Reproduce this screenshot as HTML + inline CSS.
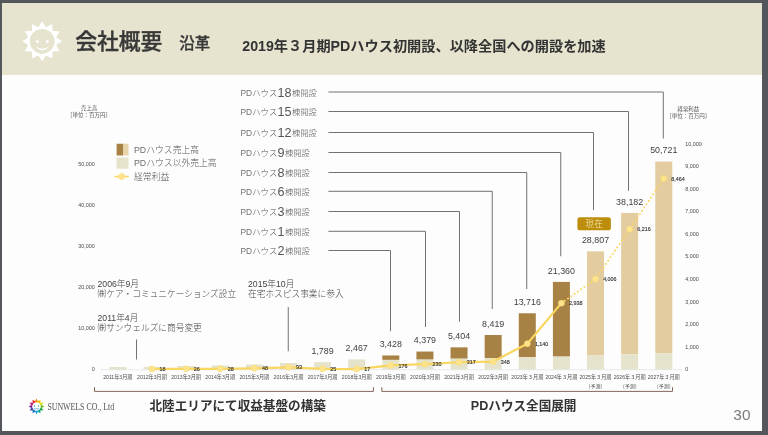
<!DOCTYPE html>
<html lang="ja"><head><meta charset="utf-8"><title>会社概要 沿革</title>
<style>
html,body{margin:0;padding:0}
body{width:768px;height:435px;background:#53575b;overflow:hidden;position:relative;font-family:"Liberation Sans","Noto Sans CJK JP",sans-serif}
#slide{position:absolute;left:2px;top:3px;width:760px;height:428px;background:#fdfdfd}
#band{position:absolute;left:0;top:0;width:760px;height:72px;background:#e6e3cf}
svg{position:absolute;left:0;top:0}
svg text{font-family:"Liberation Sans","Noto Sans CJK JP",sans-serif}
</style></head><body>
<div id="slide"><div id="band"></div></div>
<svg width="768" height="435" viewBox="0 0 768 435">
<rect x="109.35" y="367.00" width="17.0" height="2.50" fill="#e6e3cc"/>
<rect x="143.47" y="366.83" width="17.0" height="2.66" fill="#e6e3cc"/>
<rect x="177.59" y="366.01" width="17.0" height="3.48" fill="#e6e3cc"/>
<rect x="211.71" y="365.50" width="17.0" height="4.00" fill="#e6e3cc"/>
<rect x="245.83" y="364.50" width="17.0" height="5.00" fill="#e6e3cc"/>
<rect x="279.95" y="363.00" width="17.0" height="6.50" fill="#e6e3cc"/>
<rect x="314.07" y="362.17" width="17.0" height="7.33" fill="#e6e3cc"/>
<rect x="348.19" y="359.39" width="17.0" height="10.11" fill="#e6e3cc"/>
<rect x="382.31" y="355.45" width="17.0" height="4.45" fill="#a88245"/>
<rect x="382.31" y="359.90" width="17.0" height="9.60" fill="#e6e3cc"/>
<rect x="416.43" y="351.55" width="17.0" height="8.05" fill="#a88245"/>
<rect x="416.43" y="359.60" width="17.0" height="9.90" fill="#e6e3cc"/>
<rect x="450.55" y="347.34" width="17.0" height="11.36" fill="#a88245"/>
<rect x="450.55" y="358.70" width="17.0" height="10.80" fill="#e6e3cc"/>
<rect x="484.67" y="334.98" width="17.0" height="23.12" fill="#a88245"/>
<rect x="484.67" y="358.10" width="17.0" height="11.40" fill="#e6e3cc"/>
<rect x="518.79" y="313.26" width="17.0" height="43.94" fill="#a88245"/>
<rect x="518.79" y="357.20" width="17.0" height="12.30" fill="#e6e3cc"/>
<rect x="552.91" y="281.92" width="17.0" height="74.68" fill="#a88245"/>
<rect x="552.91" y="356.60" width="17.0" height="12.90" fill="#e6e3cc"/>
<rect x="587.03" y="251.39" width="17.0" height="104.11" fill="#e3cc9f"/>
<rect x="587.03" y="355.50" width="17.0" height="14.00" fill="#e6e3cc"/>
<rect x="621.15" y="212.95" width="17.0" height="141.45" fill="#e3cc9f"/>
<rect x="621.15" y="354.40" width="17.0" height="15.10" fill="#e6e3cc"/>
<rect x="655.27" y="161.54" width="17.0" height="191.66" fill="#e3cc9f"/>
<rect x="655.27" y="353.20" width="17.0" height="16.30" fill="#e6e3cc"/>
<line x1="100" y1="369.75" x2="682" y2="369.75" stroke="#dcdcdc" stroke-width="0.6"/>
<polyline points="328.4,92.0 663.30,92.0 663.30,138.50" fill="none" stroke="#6a6a6a" stroke-width="0.95"/>
<polyline points="328.4,111.5 628.50,111.5 628.50,190.75" fill="none" stroke="#6a6a6a" stroke-width="0.95"/>
<polyline points="328.4,132.5 593.50,132.5 593.50,210.00" fill="none" stroke="#6a6a6a" stroke-width="0.95"/>
<polyline points="328.4,152.5 560.75,152.5 560.75,256.25" fill="none" stroke="#6a6a6a" stroke-width="0.95"/>
<polyline points="328.4,172.5 526.75,172.5 526.75,289.00" fill="none" stroke="#6a6a6a" stroke-width="0.95"/>
<polyline points="328.4,191.3 492.25,191.3 492.25,309.00" fill="none" stroke="#6a6a6a" stroke-width="0.95"/>
<polyline points="328.4,211.5 459.50,211.5 459.50,321.75" fill="none" stroke="#6a6a6a" stroke-width="0.95"/>
<polyline points="328.4,231.3 425.50,231.3 425.50,327.00" fill="none" stroke="#6a6a6a" stroke-width="0.95"/>
<polyline points="328.4,250.5 390.50,250.5 390.50,331.25" fill="none" stroke="#6a6a6a" stroke-width="0.95"/>
<line x1="136.5" y1="339.5" x2="136.5" y2="359.5" stroke="#6a6a6a" stroke-width="0.95"/>
<line x1="288.25" y1="307" x2="288.25" y2="351.25" stroke="#6a6a6a" stroke-width="0.95"/>
<polyline points="151.97,368.99 186.09,368.81 220.21,368.77 254.33,368.32 288.45,367.30 322.57,368.84 356.69,369.02 390.81,365.43 424.93,364.21 459.05,362.25 493.17,361.55 527.29,343.69 561.41,303.15" fill="none" stroke="#f9d65f" stroke-width="2.25" stroke-linejoin="round" stroke-linecap="round"/>
<polyline points="561.41,303.15 595.53,279.06 629.65,229.23 663.77,178.54" fill="none" stroke="#f9d65f" stroke-width="1.95" stroke-dasharray="0.01 4.0" stroke-linecap="round"/>
<circle cx="151.97" cy="368.99" r="3.0" fill="#fde48c" stroke="#fbdb70" stroke-width="0.6"/>
<circle cx="186.09" cy="368.81" r="3.0" fill="#fde48c" stroke="#fbdb70" stroke-width="0.6"/>
<circle cx="220.21" cy="368.77" r="3.0" fill="#fde48c" stroke="#fbdb70" stroke-width="0.6"/>
<circle cx="254.33" cy="368.32" r="3.0" fill="#fde48c" stroke="#fbdb70" stroke-width="0.6"/>
<circle cx="288.45" cy="367.30" r="3.0" fill="#fde48c" stroke="#fbdb70" stroke-width="0.6"/>
<circle cx="322.57" cy="368.84" r="3.0" fill="#fde48c" stroke="#fbdb70" stroke-width="0.6"/>
<circle cx="356.69" cy="369.02" r="3.0" fill="#fde48c" stroke="#fbdb70" stroke-width="0.6"/>
<circle cx="390.81" cy="365.43" r="3.0" fill="#fde48c" stroke="#fbdb70" stroke-width="0.6"/>
<circle cx="424.93" cy="364.21" r="3.0" fill="#fde48c" stroke="#fbdb70" stroke-width="0.6"/>
<circle cx="459.05" cy="362.25" r="3.0" fill="#fde48c" stroke="#fbdb70" stroke-width="0.6"/>
<circle cx="493.17" cy="361.55" r="3.0" fill="#fde48c" stroke="#fbdb70" stroke-width="0.6"/>
<circle cx="527.29" cy="343.69" r="3.0" fill="#fde48c" stroke="#fbdb70" stroke-width="0.6"/>
<circle cx="561.41" cy="303.15" r="3.0" fill="#fde48c" stroke="#fbdb70" stroke-width="0.6"/>
<circle cx="595.53" cy="279.06" r="3.0" fill="#fde48c" stroke="#fbdb70" stroke-width="0.6"/>
<circle cx="629.65" cy="229.23" r="3.0" fill="#fde48c" stroke="#fbdb70" stroke-width="0.6"/>
<circle cx="663.77" cy="178.54" r="3.0" fill="#fde48c" stroke="#fbdb70" stroke-width="0.6"/>
<rect x="116.6" y="143.75" width="6.4" height="11.75" fill="#a88245"/>
<rect x="123" y="143.75" width="5.5" height="11.75" fill="#e8d4ab"/>
<rect x="116.5" y="157.5" width="12" height="11.25" fill="#e6e3cc"/>
<line x1="114.5" y1="176.5" x2="128.75" y2="176.5" stroke="#f9d65f" stroke-width="1.5"/>
<circle cx="121.7" cy="176.5" r="3.1" fill="#fde48c" stroke="#fbdb70" stroke-width="0.5"/>
<rect x="577.4" y="217.2" width="33.5" height="13.1" rx="2.6" fill="#bd8e0b"/>
<polyline points="94.5,387.2 94.5,391.4 373.4,391.4 373.4,387.2" fill="none" stroke="#82675c" stroke-width="1"/>
<polyline points="381.8,387.2 381.8,391.4 672.5,391.4 672.5,387.2" fill="none" stroke="#82675c" stroke-width="1"/>
<polygon points="42.20,21.30 45.98,27.20 52.20,23.98 52.52,30.98 59.52,31.30 56.30,37.52 62.20,41.30 56.30,45.08 59.52,51.30 52.52,51.62 52.20,58.62 45.98,55.40 42.20,61.30 38.42,55.40 32.20,58.62 31.88,51.62 24.88,51.30 28.10,45.08 22.20,41.30 28.10,37.52 24.88,31.30 31.88,30.98 32.20,23.98 38.42,27.20" fill="#ffffff"/>
<circle cx="42.2" cy="41.3" r="12.4" fill="#e6e3cf"/>
<circle cx="37.3" cy="41.5" r="1.5" fill="#fff"/><circle cx="47.3" cy="41.5" r="1.5" fill="#fff"/>
<path d="M35.7 45.9 Q42.3 51.8 49.1 45.9 Q42.3 54.6 35.7 45.9 Z" fill="#fff"/>
<polygon points="36.50,406.50 35.10,401.28 36.50,398.60 37.90,401.28" fill="#f08300"/>
<polygon points="36.50,406.50 37.90,401.28 40.45,399.66 40.32,402.68" fill="#f8c300"/>
<polygon points="36.50,406.50 40.32,402.68 43.34,402.55 41.72,405.10" fill="#d8dc00"/>
<polygon points="36.50,406.50 41.72,405.10 44.40,406.50 41.72,407.90" fill="#6fba2c"/>
<polygon points="36.50,406.50 41.72,407.90 43.34,410.45 40.32,410.32" fill="#14a83b"/>
<polygon points="36.50,406.50 40.32,410.32 40.45,413.34 37.90,411.72" fill="#009e96"/>
<polygon points="36.50,406.50 37.90,411.72 36.50,414.40 35.10,411.72" fill="#1aa3dc"/>
<polygon points="36.50,406.50 35.10,411.72 32.55,413.34 32.68,410.32" fill="#1470c2"/>
<polygon points="36.50,406.50 32.68,410.32 29.66,410.45 31.28,407.90" fill="#3a3f9f"/>
<polygon points="36.50,406.50 31.28,407.90 28.60,406.50 31.28,405.10" fill="#7d2e8f"/>
<polygon points="36.50,406.50 31.28,405.10 29.66,402.55 32.68,402.68" fill="#c4127c"/>
<polygon points="36.50,406.50 32.68,402.68 32.55,399.66 35.10,401.28" fill="#e5232f"/>
<circle cx="36.5" cy="406.5" r="4.25" fill="#fff"/>
<rect x="34.3" y="405.2" width="0.8" height="1.7" fill="#4a6fc4"/><rect x="37.9" y="405.2" width="0.8" height="1.7" fill="#3bb27a"/>
<path d="M34.2 408.1 L34.2 408.9 L38.8 408.9 L38.8 408.1" fill="none" stroke="#2a8fcf" stroke-width="0.6"/>
<text x="240.5" y="95.90" fill="#555" font-weight="300"><tspan font-size="8.4"><tspan fill="#707070">PD</tspan>ハウス</tspan><tspan font-size="12.6" dy="0.6" dx="0.2">18</tspan><tspan font-size="8.3" dy="-0.6" dx="0.5">棟開設</tspan></text>
<text x="240.5" y="115.40" fill="#555" font-weight="300"><tspan font-size="8.4"><tspan fill="#707070">PD</tspan>ハウス</tspan><tspan font-size="12.6" dy="0.6" dx="0.2">15</tspan><tspan font-size="8.3" dy="-0.6" dx="0.5">棟開設</tspan></text>
<text x="240.5" y="136.40" fill="#555" font-weight="300"><tspan font-size="8.4"><tspan fill="#707070">PD</tspan>ハウス</tspan><tspan font-size="12.6" dy="0.6" dx="0.2">12</tspan><tspan font-size="8.3" dy="-0.6" dx="0.5">棟開設</tspan></text>
<text x="240.5" y="156.40" fill="#555" font-weight="300"><tspan font-size="8.4"><tspan fill="#707070">PD</tspan>ハウス</tspan><tspan font-size="12.6" dy="0.6" dx="0.2">9</tspan><tspan font-size="8.3" dy="-0.6" dx="0.5">棟開設</tspan></text>
<text x="240.5" y="176.40" fill="#555" font-weight="300"><tspan font-size="8.4"><tspan fill="#707070">PD</tspan>ハウス</tspan><tspan font-size="12.6" dy="0.6" dx="0.2">8</tspan><tspan font-size="8.3" dy="-0.6" dx="0.5">棟開設</tspan></text>
<text x="240.5" y="195.20" fill="#555" font-weight="300"><tspan font-size="8.4"><tspan fill="#707070">PD</tspan>ハウス</tspan><tspan font-size="12.6" dy="0.6" dx="0.2">6</tspan><tspan font-size="8.3" dy="-0.6" dx="0.5">棟開設</tspan></text>
<text x="240.5" y="215.40" fill="#555" font-weight="300"><tspan font-size="8.4"><tspan fill="#707070">PD</tspan>ハウス</tspan><tspan font-size="12.6" dy="0.6" dx="0.2">3</tspan><tspan font-size="8.3" dy="-0.6" dx="0.5">棟開設</tspan></text>
<text x="240.5" y="235.20" fill="#555" font-weight="300"><tspan font-size="8.4"><tspan fill="#707070">PD</tspan>ハウス</tspan><tspan font-size="12.6" dy="0.6" dx="0.2">1</tspan><tspan font-size="8.3" dy="-0.6" dx="0.5">棟開設</tspan></text>
<text x="240.5" y="254.40" fill="#555" font-weight="300"><tspan font-size="8.4"><tspan fill="#707070">PD</tspan>ハウス</tspan><tspan font-size="12.6" dy="0.6" dx="0.2">2</tspan><tspan font-size="8.3" dy="-0.6" dx="0.5">棟開設</tspan></text>
<text x="159.57" y="371.09" font-size="5.4" text-anchor="start" font-weight="400" fill="#2e2e2e" stroke="#2e2e2e" stroke-width="0.12">18</text>
<text x="193.69" y="370.91" font-size="5.4" text-anchor="start" font-weight="400" fill="#2e2e2e" stroke="#2e2e2e" stroke-width="0.12">26</text>
<text x="227.81" y="370.87" font-size="5.4" text-anchor="start" font-weight="400" fill="#2e2e2e" stroke="#2e2e2e" stroke-width="0.12">28</text>
<text x="261.93" y="370.42" font-size="5.4" text-anchor="start" font-weight="400" fill="#2e2e2e" stroke="#2e2e2e" stroke-width="0.12">48</text>
<text x="296.05" y="369.40" font-size="5.4" text-anchor="start" font-weight="400" fill="#2e2e2e" stroke="#2e2e2e" stroke-width="0.12">93</text>
<text x="330.17" y="370.94" font-size="5.4" text-anchor="start" font-weight="400" fill="#2e2e2e" stroke="#2e2e2e" stroke-width="0.12">25</text>
<text x="364.29" y="371.12" font-size="5.4" text-anchor="start" font-weight="400" fill="#2e2e2e" stroke="#2e2e2e" stroke-width="0.12">17</text>
<text x="398.41" y="367.53" font-size="5.4" text-anchor="start" font-weight="400" fill="#2e2e2e" stroke="#2e2e2e" stroke-width="0.12">176</text>
<text x="432.53" y="366.31" font-size="5.4" text-anchor="start" font-weight="400" fill="#2e2e2e" stroke="#2e2e2e" stroke-width="0.12">230</text>
<text x="466.65" y="364.35" font-size="5.4" text-anchor="start" font-weight="400" fill="#2e2e2e" stroke="#2e2e2e" stroke-width="0.12">317</text>
<text x="500.77" y="363.65" font-size="5.4" text-anchor="start" font-weight="400" fill="#2e2e2e" stroke="#2e2e2e" stroke-width="0.12">348</text>
<text x="534.89" y="345.79" font-size="5.4" text-anchor="start" font-weight="400" fill="#2e2e2e" stroke="#2e2e2e" stroke-width="0.12">1,140</text>
<text x="569.01" y="305.25" font-size="5.4" text-anchor="start" font-weight="400" fill="#2e2e2e" stroke="#2e2e2e" stroke-width="0.12">2,938</text>
<text x="603.13" y="281.16" font-size="5.4" text-anchor="start" font-weight="400" fill="#2e2e2e" stroke="#2e2e2e" stroke-width="0.12">4,006</text>
<text x="637.25" y="231.33" font-size="5.4" text-anchor="start" font-weight="400" fill="#2e2e2e" stroke="#2e2e2e" stroke-width="0.12">6,216</text>
<text x="671.37" y="180.64" font-size="5.4" text-anchor="start" font-weight="400" fill="#2e2e2e" stroke="#2e2e2e" stroke-width="0.12">8,464</text>
<text x="322.57" y="353.87" font-size="8.9" text-anchor="middle" font-weight="400" fill="#3e3e3e" >1,789</text>
<text x="356.69" y="351.09" font-size="8.9" text-anchor="middle" font-weight="400" fill="#3e3e3e" >2,467</text>
<text x="390.81" y="347.15" font-size="8.9" text-anchor="middle" font-weight="400" fill="#3e3e3e" >3,428</text>
<text x="424.93" y="343.25" font-size="8.9" text-anchor="middle" font-weight="400" fill="#3e3e3e" >4,379</text>
<text x="459.05" y="339.04" font-size="8.9" text-anchor="middle" font-weight="400" fill="#3e3e3e" >5,404</text>
<text x="493.17" y="326.68" font-size="8.9" text-anchor="middle" font-weight="400" fill="#3e3e3e" >8,419</text>
<text x="527.29" y="304.96" font-size="8.9" text-anchor="middle" font-weight="400" fill="#3e3e3e" >13,716</text>
<text x="561.41" y="273.62" font-size="8.9" text-anchor="middle" font-weight="400" fill="#3e3e3e" >21,360</text>
<text x="595.53" y="243.09" font-size="8.9" text-anchor="middle" font-weight="400" fill="#3e3e3e" >28,807</text>
<text x="629.65" y="204.65" font-size="8.9" text-anchor="middle" font-weight="400" fill="#3e3e3e" >38,182</text>
<text x="663.77" y="153.24" font-size="8.9" text-anchor="middle" font-weight="400" fill="#3e3e3e" >50,721</text>
<text x="117.85" y="378.80" font-size="5.15" text-anchor="middle" font-weight="400" fill="#4c4c4c" >2011年3月期</text>
<text x="151.97" y="378.80" font-size="5.15" text-anchor="middle" font-weight="400" fill="#4c4c4c" >2012年3月期</text>
<text x="186.09" y="378.80" font-size="5.15" text-anchor="middle" font-weight="400" fill="#4c4c4c" >2013年3月期</text>
<text x="220.21" y="378.80" font-size="5.15" text-anchor="middle" font-weight="400" fill="#4c4c4c" >2014年3月期</text>
<text x="254.33" y="378.80" font-size="5.15" text-anchor="middle" font-weight="400" fill="#4c4c4c" >2015年3月期</text>
<text x="288.45" y="378.80" font-size="5.15" text-anchor="middle" font-weight="400" fill="#4c4c4c" >2016年3月期</text>
<text x="322.57" y="378.80" font-size="5.15" text-anchor="middle" font-weight="400" fill="#4c4c4c" >2017年3月期</text>
<text x="356.69" y="378.80" font-size="5.15" text-anchor="middle" font-weight="400" fill="#4c4c4c" >2018年3月期</text>
<text x="390.81" y="378.80" font-size="5.15" text-anchor="middle" font-weight="400" fill="#4c4c4c" >2019年3月期</text>
<text x="424.93" y="378.80" font-size="5.15" text-anchor="middle" font-weight="400" fill="#4c4c4c" >2020年3月期</text>
<text x="459.05" y="378.80" font-size="5.15" text-anchor="middle" font-weight="400" fill="#4c4c4c" >2021年3月期</text>
<text x="493.17" y="378.80" font-size="5.15" text-anchor="middle" font-weight="400" fill="#4c4c4c" >2022年3月期</text>
<text x="527.29" y="378.80" font-size="5.15" text-anchor="middle" font-weight="400" fill="#4c4c4c" >2023年３月期</text>
<text x="561.41" y="378.80" font-size="5.15" text-anchor="middle" font-weight="400" fill="#4c4c4c" >2024年３月期</text>
<text x="595.53" y="378.80" font-size="5.15" text-anchor="middle" font-weight="400" fill="#4c4c4c" >2025年３月期</text>
<text x="595.53" y="387.50" font-size="5.0" text-anchor="middle" font-weight="400" fill="#555" >（予測）</text>
<text x="629.65" y="378.80" font-size="5.15" text-anchor="middle" font-weight="400" fill="#4c4c4c" >2026年３月期</text>
<text x="629.65" y="387.50" font-size="5.0" text-anchor="middle" font-weight="400" fill="#555" >（予測）</text>
<text x="663.77" y="378.80" font-size="5.15" text-anchor="middle" font-weight="400" fill="#4c4c4c" >2027年３月期</text>
<text x="663.77" y="387.50" font-size="5.0" text-anchor="middle" font-weight="400" fill="#555" >（予測）</text>
<text x="94.75" y="371.15" font-size="5.4" text-anchor="end" font-weight="400" fill="#4a4a4a" >0</text>
<text x="94.75" y="330.15" font-size="5.4" text-anchor="end" font-weight="400" fill="#4a4a4a" >10,000</text>
<text x="94.75" y="289.15" font-size="5.4" text-anchor="end" font-weight="400" fill="#4a4a4a" >20,000</text>
<text x="94.75" y="248.15" font-size="5.4" text-anchor="end" font-weight="400" fill="#4a4a4a" >30,000</text>
<text x="94.75" y="207.15" font-size="5.4" text-anchor="end" font-weight="400" fill="#4a4a4a" >40,000</text>
<text x="94.75" y="166.15" font-size="5.4" text-anchor="end" font-weight="400" fill="#4a4a4a" >50,000</text>
<text x="685.20" y="371.15" font-size="5.4" text-anchor="start" font-weight="400" fill="#4a4a4a" >0</text>
<text x="685.20" y="348.60" font-size="5.4" text-anchor="start" font-weight="400" fill="#4a4a4a" >1,000</text>
<text x="685.20" y="326.05" font-size="5.4" text-anchor="start" font-weight="400" fill="#4a4a4a" >2,000</text>
<text x="685.20" y="303.50" font-size="5.4" text-anchor="start" font-weight="400" fill="#4a4a4a" >3,000</text>
<text x="685.20" y="280.95" font-size="5.4" text-anchor="start" font-weight="400" fill="#4a4a4a" >4,000</text>
<text x="685.20" y="258.40" font-size="5.4" text-anchor="start" font-weight="400" fill="#4a4a4a" >5,000</text>
<text x="685.20" y="235.85" font-size="5.4" text-anchor="start" font-weight="400" fill="#4a4a4a" >6,000</text>
<text x="685.20" y="213.30" font-size="5.4" text-anchor="start" font-weight="400" fill="#4a4a4a" >7,000</text>
<text x="685.20" y="190.75" font-size="5.4" text-anchor="start" font-weight="400" fill="#4a4a4a" >8,000</text>
<text x="685.20" y="168.20" font-size="5.4" text-anchor="start" font-weight="400" fill="#4a4a4a" >9,000</text>
<text x="685.20" y="145.65" font-size="5.4" text-anchor="start" font-weight="400" fill="#4a4a4a" >10,000</text>
<text x="89.20" y="110.30" font-size="5.4" text-anchor="middle" font-weight="400" fill="#555" >売上高</text>
<text x="89.00" y="117.10" font-size="5.5" text-anchor="middle" font-weight="400" fill="#555" >［単位：百万円］</text>
<text x="688.30" y="110.60" font-size="5.4" text-anchor="middle" font-weight="400" fill="#555" >経常利益</text>
<text x="688.20" y="117.60" font-size="5.5" text-anchor="middle" font-weight="400" fill="#555" >［単位：百万円］</text>
<text x="134.00" y="152.50" font-size="8.8" text-anchor="start" font-weight="300" fill="#555" ><tspan fill="#6e6e6e">PD</tspan>ハウス売上高</text>
<text x="134.00" y="166.30" font-size="8.8" text-anchor="start" font-weight="300" fill="#555" ><tspan fill="#6e6e6e">PD</tspan>ハウス以外売上高</text>
<text x="134.00" y="179.80" font-size="8.8" text-anchor="start" font-weight="300" fill="#555" >経常利益</text>
<text x="97.50" y="286.80" font-size="8.7" text-anchor="start" font-weight="300" fill="#444" >2006年9月</text>
<text x="97.50" y="297.00" font-size="8.7" text-anchor="start" font-weight="300" fill="#444" >㈱ケア・コミュニケーションズ設立</text>
<text x="97.50" y="321.10" font-size="8.7" text-anchor="start" font-weight="300" fill="#444" >2011年4月</text>
<text x="97.50" y="331.30" font-size="8.7" text-anchor="start" font-weight="300" fill="#444" >㈱サンウェルズに商号変更</text>
<text x="248.00" y="286.80" font-size="8.7" text-anchor="start" font-weight="300" fill="#444" >2015年10月</text>
<text x="248.00" y="297.00" font-size="8.7" text-anchor="start" font-weight="300" fill="#444" >在宅ホスピス事業に参入</text>
<text x="594.30" y="227.10" font-size="8.7" text-anchor="middle" font-weight="300" fill="#f8e9bd" letter-spacing="0.4">現在</text>
<text x="149.50" y="410.10" font-size="12.6" text-anchor="start" font-weight="700" fill="#333" >北陸エリアにて収益基盤の構築</text>
<text x="470.80" y="410.10" font-size="12.6" text-anchor="start" font-weight="700" fill="#333" >PDハウス全国展開</text>
<text x="741.90" y="420.10" font-size="15.4" text-anchor="middle" font-weight="400" fill="#7a7a7a" >30</text>
<text x="75.20" y="48.60" font-size="21.8" text-anchor="start" font-weight="500" fill="#383838" stroke="#383838" stroke-width="0.35">会社概要</text>
<text x="179.30" y="48.90" font-size="15.4" text-anchor="start" font-weight="500" fill="#383838" stroke="#383838" stroke-width="0.3">沿革</text>
<text x="242.30" y="50.60" font-size="14.2" text-anchor="start" font-weight="700" fill="#333" >2019年３月期PDハウス初開設、以降全国への開設を加速</text>
<text transform="translate(47.4,410) scale(0.827,1)" x="0" y="0" font-size="9.5" fill="#555" style="font-family:'Liberation Serif',serif">SUNWELS CO., Ltd</text>
</svg>
</body></html>
